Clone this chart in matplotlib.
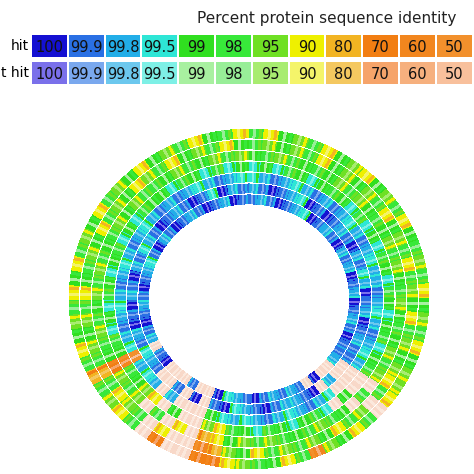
import matplotlib
matplotlib.use('Agg')
import matplotlib.pyplot as plt
from matplotlib.patches import Wedge, Rectangle

# identity bins shown in the legend
bins = ["100", "99.9", "99.8", "99.5", "99", "98", "95", "90", "80", "70", "60", "50"]
strong_colors = ["#1410d2", "#2a70e4", "#22aee8", "#2ee6d6", "#30df20", "#38e83a", "#6fe024",
                 "#eef000", "#f2b422", "#f27e12", "#f2861e", "#f2902c"]
light_colors = ["#7a70ea", "#7aa8ee", "#6cc8ee", "#7ef0e6", "#a8f0a0", "#98ee98", "#a8ec70",
                "#f4f46a", "#f4c860", "#f6a46a", "#f6b07e", "#f8c09c"]
pale = "#f8d8c8"

# ring contents, innermost first; one char per 5 degree segment, clockwise from top
# '0'..'9','a','b' -> bin index, 'p' -> pale / weak hit
rings = [
    "".join(["12101230", "12102120", "12012101", "12pp0p12", "12101230", "pp1ppp01", "p2101210", "12310210", "12101201"]),
    "".join(["21012301", "01210213", "20120121", "1pp2p012", "21012301", "p0p1pp12", "31201021", "02132101", "21013021"]),
    "".join(["32123212", "12321232", "21232123", "2ppp3212", "32123234", "ppp2p232", "b3212321", "23212321", "21232123"]),
    "".join(["34354345", "43534354", "35434534", "5pp4p354", "34534576", "pp4p7645", "a4534354", "34534354", "43543534"]),
    "".join(["45654546", "56454656", "45645465", "6p5p4565", "45656478", "p7p5p656", "94565465", "65456465", "54654656"]),
    "".join(["56465746", "46574657", "56475646", "75p65746", "5657468a", "pp7p5675", "85646574", "56475647", "65746574"]),
    "".join(["57465746", "74657456", "57465746", "67p5746a", "57456799", "pp9p5765", "85746574", "75647564", "74657457"]),
]
hit_labels = ["hit", "t hit"]

fig = plt.figure(figsize=(4.74, 4.74), dpi=100)

# legend layer in pixel coordinates
lax = fig.add_axes([0, 0, 1, 1])
lax.set_xlim(0, 474)
lax.set_ylim(474, 0)
lax.axis('off')
lax.text(456, 18, "Percent protein sequence identity", ha='right', va='center',
         fontsize=11, color='#222222')
cell_w, cell_h, x0 = 36.8, 22, 31
for r, (cols, ytop) in enumerate([(strong_colors, 35), (light_colors, 62)]):
    lax.text(29, ytop + cell_h / 2, hit_labels[r], ha='right', va='center', fontsize=10)
    for k, (lab, c) in enumerate(zip(bins, cols)):
        lax.add_patch(Rectangle((x0 + k * cell_w + 1, ytop), cell_w - 2, cell_h,
                                facecolor=c, edgecolor='none'))
        lax.text(x0 + k * cell_w + cell_w / 2, ytop + cell_h / 2 + 1, lab,
                 ha='center', va='center', fontsize=10.5, color='#111111')

# ring layer, slightly squashed like the source
rax = fig.add_axes([68 / 474, 1 - 470 / 474, 362 / 474, 342 / 474])
rax.set_xlim(-1, 1)
rax.set_ylim(-1, 1)
rax.axis('off')

inner, outer, gap = 0.55, 1.0, 0.006
width = (outer - inner) / len(rings)
n_sub = 5


def seg_color(code, sub):
    if code == 'p':
        return pale if sub % 2 == 0 else "#fbe8dc"
    idx = int(code, 16)
    shift = [0, 1, 0, -1, 0][sub]
    j = min(max(idx + shift, 0), len(strong_colors) - 1)
    return strong_colors[j] if sub != 3 else light_colors[idx]


for ri, ring in enumerate(rings):
    r_in = inner + ri * width
    seg = 360 / len(ring)
    for i, code in enumerate(ring):
        start = 90 - (i + 1) * seg
        for s in range(n_sub):
            a0 = start + s * seg / n_sub
            rax.add_patch(Wedge((0, 0), r_in + width - gap, a0, a0 + seg / n_sub + 0.15,
                                width=width - 2 * gap, facecolor=seg_color(code, s),
                                edgecolor='none', antialiased=False))

fig.savefig("out.png", dpi=100)
